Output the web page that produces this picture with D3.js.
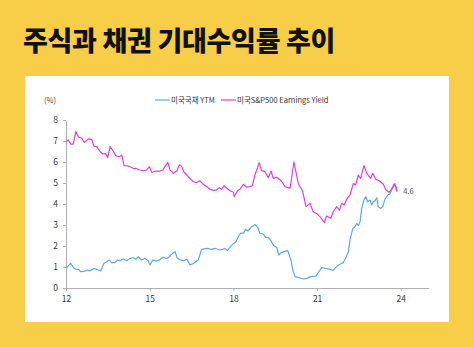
<!DOCTYPE html>
<html>
<head>
<meta charset="utf-8">
<script src="https://cdn.jsdelivr.net/npm/d3@7"></script>
<style>
  html, body { margin: 0; padding: 0; background: #f8cd47; }
  svg { display: block; }
</style>
</head>
<body>
<svg id="chart" width="474" height="347"></svg>
<script>
// US Treasury YTM (%) by decimal year
const ytmYears = [2012.00,2012.08,2012.17,2012.26,2012.35,2012.44,2012.53,2012.65,2012.76,2012.86,2012.98,
  2013.10,2013.24,2013.36,2013.46,2013.55,2013.64,2013.76,2013.84,2013.94,
  2014.05,2014.18,2014.29,2014.41,2014.51,2014.59,2014.71,2014.83,2014.95,
  2015.01,2015.11,2015.23,2015.34,2015.47,2015.61,2015.70,2015.82,2015.91,2015.99,
  2016.11,2016.23,2016.33,2016.44,2016.56,2016.74,2016.86,
  2017.04,2017.22,2017.34,2017.49,2017.62,2017.70,2017.78,2017.88,2017.99,
  2018.09,2018.20,2018.27,2018.36,2018.44,2018.53,2018.63,2018.71,2018.77,2018.87,2018.95,
  2019.07,2019.16,2019.25,2019.35,2019.43,2019.49,2019.55,2019.63,2019.71,2019.82,2019.95,
  2020.06,2020.14,2020.21,2020.36,2020.51,2020.63,2020.77,2020.96,
  2021.04,2021.17,2021.28,2021.44,2021.56,2021.70,2021.82,2021.94,
  2022.04,2022.12,2022.18,2022.28,2022.36,2022.42,2022.48,2022.54,2022.60,2022.68,2022.75,2022.81,2022.90,2022.96,
  2023.01,2023.08,2023.14,2023.19,2023.28,2023.35,2023.43,2023.53,2023.61,2023.67,2023.76,2023.79,2023.83,2023.85];
const ytmValues = [0.94,1.05,1.17,0.98,0.89,0.89,0.78,0.79,0.86,0.81,0.92,
  0.89,0.81,1.17,1.25,1.33,1.21,1.21,1.33,1.30,
  1.38,1.30,1.41,1.44,1.37,1.49,1.33,1.41,1.29,
  1.10,1.33,1.29,1.33,1.46,1.41,1.49,1.65,1.73,1.41,
  1.33,1.30,1.38,1.10,1.17,1.33,1.84,
  1.89,1.84,1.89,1.81,1.84,1.89,1.78,1.95,2.10,
  2.20,2.50,2.62,2.60,2.79,2.72,2.89,2.95,3.03,2.89,2.60,
  2.57,2.41,2.41,2.25,2.05,1.97,1.94,1.57,1.68,1.73,1.78,
  1.33,0.80,0.54,0.49,0.43,0.46,0.54,0.57,
  0.73,0.97,0.94,0.90,0.83,1.02,1.13,1.21,
  1.46,1.73,2.29,2.84,2.92,3.08,2.97,3.16,3.79,4.19,4.35,4.11,4.19,3.95,
  4.11,4.16,4.30,3.87,3.79,3.87,4.22,4.43,4.48,4.67,4.86,4.98,4.70,4.59];

// US S&P500 earnings yield (%) by decimal year
const eyYears = [2012.00,2012.08,2012.17,2012.26,2012.35,2012.44,2012.56,2012.66,2012.80,2012.92,
  2013.00,2013.10,2013.22,2013.32,2013.43,2013.49,2013.58,2013.70,2013.79,2013.91,
  2014.00,2014.08,2014.23,2014.41,2014.53,2014.65,2014.77,2014.89,2014.99,
  2015.07,2015.23,2015.37,2015.47,2015.55,2015.65,2015.73,2015.85,2015.97,
  2016.06,2016.15,2016.23,2016.33,2016.44,2016.56,2016.68,2016.80,2016.92,
  2017.04,2017.16,2017.28,2017.40,2017.49,2017.58,2017.66,2017.76,2017.88,
  2018.00,2018.03,2018.14,2018.24,2018.36,2018.48,2018.60,2018.68,2018.77,2018.86,2018.92,
  2019.01,2019.13,2019.25,2019.35,2019.43,2019.55,2019.71,2019.85,
  2020.03,2020.17,2020.33,2020.48,2020.60,2020.75,2020.86,
  2021.01,2021.13,2021.26,2021.34,2021.49,2021.58,2021.70,2021.80,2021.88,2021.97,
  2022.08,2022.18,2022.30,2022.38,2022.48,2022.56,2022.68,2022.78,2022.92,2022.99,
  2023.11,2023.23,2023.37,2023.47,2023.58,2023.67,2023.76,2023.83,2023.87];
const eyValues = [6.97,7.05,6.85,6.85,7.45,7.20,7.13,6.93,7.10,7.08,
  6.76,6.73,6.50,6.38,6.40,6.20,6.73,6.50,6.29,6.25,
  6.33,5.83,5.81,5.70,5.67,5.62,5.59,5.62,5.78,
  5.51,5.57,5.57,5.62,5.78,5.98,5.62,5.46,5.57,
  5.86,5.78,5.51,5.38,5.22,5.06,5.02,5.10,4.94,
  4.83,4.70,4.65,4.67,4.78,4.70,4.87,4.75,4.63,
  4.56,4.35,4.62,4.71,4.94,4.80,4.83,4.87,5.38,5.70,5.97,
  5.59,5.54,5.25,5.57,5.22,5.27,5.11,4.83,
  4.75,6.00,4.95,4.62,3.87,4.03,3.63,
  3.52,3.35,3.11,3.43,3.32,3.63,3.87,3.71,4.03,3.95,
  4.27,4.43,4.98,4.90,5.38,5.22,5.83,5.46,5.22,5.46,
  5.17,5.11,4.94,4.67,4.56,4.70,4.95,4.83,4.60];

const xTicks = [2012, 2015, 2018, 2021, 2024];
const xTickLabels = ["12", "15", "18", "21", "24"];
const yTicks = [0, 1, 2, 3, 4, 5, 6, 7, 8];

const seriesNames = ["미국국채 YTM", "미국S&P500 Earnings Yield"];
const seriesColors = ["#5aaae6", "#e03ee0"];
const endLabel = "4.6";
const title = "주식과 채권 기대수익률 추이";

const svg = d3.select("#chart");
const FONT = "'Noto Sans CJK KR', 'Noto Sans', sans-serif";

// background + panel
svg.append("rect").attr("width", 474).attr("height", 347).attr("fill", "#f8cd47");
svg.append("rect").attr("x", 25).attr("y", 76).attr("width", 424).attr("height", 246).attr("fill", "#ffffff");

svg.append("text")
  .attr("x", 23).attr("y", 51)
  .attr("font-family", FONT).attr("font-weight", 900).attr("font-size", 27)
  .attr("letter-spacing", -0.3)
  .attr("fill", "#111").text(title);

const x = d3.scaleLinear().domain([2012, 2025]).range([66, 428.7]);
const y = d3.scaleLinear().domain([0, 8]).range([288, 120]);

const axisColor = "#b0b0b0";

const gx = svg.append("g").attr("transform", `translate(0,${y(0)})`)
  .call(d3.axisBottom(x).tickValues(xTicks).tickFormat((d, i) => xTickLabels[i]).tickSize(3).tickSizeOuter(0));
const gy = svg.append("g").attr("transform", `translate(${x(2012)},0)`)
  .call(d3.axisLeft(y).tickValues(yTicks).tickFormat(d3.format("d")).tickSize(3).tickSizeOuter(0));

[gx, gy].forEach(g => {
  g.select(".domain").attr("stroke", axisColor).attr("stroke-width", 1);
  g.selectAll(".tick line").attr("stroke", axisColor);
  g.selectAll(".tick text").attr("font-family", FONT).attr("font-size", 8.5).attr("fill", "#3a3a3a");
});
gx.selectAll(".tick text").attr("dy", "0.9em");
gy.selectAll(".tick text").attr("dx", "-2");

svg.append("text").attr("x", 44).attr("y", 103)
  .attr("font-family", FONT).attr("font-size", 7.5).attr("fill", "#444").text("(%)");

const line = d3.line().x(d => x(d[0])).y(d => y(d[1]));
const ytm = d3.zip(ytmYears, ytmValues);
const ey = d3.zip(eyYears, eyValues);

[ytm, ey].forEach((data, i) => {
  svg.append("path").datum(data)
    .attr("fill", "none").attr("stroke", seriesColors[i])
    .attr("stroke-width", 1.2).attr("stroke-linejoin", "round")
    .attr("d", line);
});

// end value label
const last = ey[ey.length - 1];
svg.append("text").attr("x", x(last[0]) + 6).attr("y", y(last[1]) + 3)
  .attr("font-family", FONT).attr("font-size", 7.5).attr("fill", "#555").text(endLabel);

// legend
const legendX = [155, 221];
seriesNames.forEach((name, i) => {
  const g = svg.append("g").attr("transform", `translate(${legendX[i]},100)`);
  g.append("line").attr("x1", 0).attr("x2", 15).attr("y1", 0).attr("y2", 0)
    .attr("stroke", seriesColors[i]).attr("stroke-width", 1.2);
  g.append("text").attr("x", 16).attr("y", 3)
    .attr("font-family", FONT).attr("font-size", 7.5).attr("fill", "#333").text(name);
});
</script>
</body>
</html>
